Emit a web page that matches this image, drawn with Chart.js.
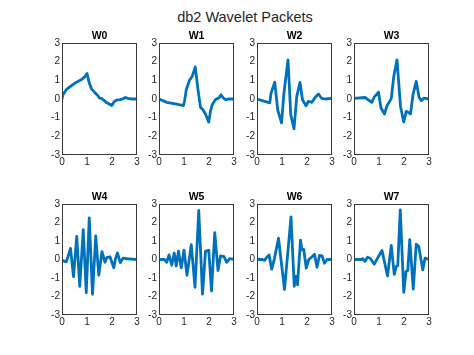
<!DOCTYPE html>
<html>
<head>
<meta charset="utf-8">
<script src="https://cdn.jsdelivr.net/npm/chart.js@4.4.1/dist/chart.umd.min.js"></script>
<style>
html,body{margin:0;padding:0;background:#fff;}
#fig{position:relative;width:474px;height:355px;overflow:hidden;background:#fff;}
#sup{position:absolute;left:0;top:9px;width:490px;line-height:17px;text-align:center;font-family:"Liberation Sans",Arial,Helvetica,sans-serif;font-size:14.5px;color:#262626;white-space:nowrap;}
.cell{position:absolute;}
canvas{display:block;}
</style>
</head>
<body>
<div id="fig"><div id="sup">db2 Wavelet Packets</div></div>
<script>
// ---- data ----
const figureTitle = 'db2 Wavelet Packets';
const panelTitles = ['W0','W1','W2','W3','W4','W5','W6','W7'];
const xTicks = [0, 1, 2, 3];
const yTicks = [-3, -2, -1, 0, 1, 2, 3];

const w0x = [0,0.04,0.17,0.38,0.58,0.78,0.92,1.0,1.09,1.18,1.29,1.43,1.5,1.59,1.76,1.99,2.1,2.2,2.33,2.46,2.53,2.64,2.8,3];
const w0y = [0,0.23,0.5,0.72,0.9,1.04,1.2,1.37,0.87,0.54,0.38,0.19,0.05,0.03,-0.17,-0.35,-0.12,-0.05,-0.03,0.02,0.08,0.03,0,0];

const w1x = [0,0.31,0.71,0.98,1.02,1.09,1.22,1.33,1.45,1.55,1.66,1.75,1.86,1.99,2.06,2.13,2.26,2.4,2.48,2.57,2.66,2.8,3];
const w1y = [0,-0.18,-0.28,-0.35,-0.12,0.5,1.0,1.22,1.72,0.6,-0.45,-0.56,-0.8,-1.24,-0.65,-0.3,-0.03,0.06,0.23,0.06,-0.03,0,0];

const w2x = [0,0.51,0.56,0.71,0.83,0.98,1.08,1.24,1.35,1.48,1.59,1.72,1.82,1.96,2.06,2.19,2.36,2.46,2.58,2.73,3];
const w2y = [0,-0.21,0.3,0.9,-0.6,-1.28,0.35,2.1,-0.84,-1.6,0.14,0.89,-0.04,-0.36,-0.12,-0.18,0.14,0.27,0.04,0,0.03];

const w3x = [0,0.44,0.71,0.81,0.98,1.08,1.22,1.32,1.49,1.59,1.72,1.86,1.99,2.09,2.15,2.26,2.36,2.49,2.6,2.69,2.8,3];
const w3y = [0.03,0.08,-0.18,0.1,0.37,-0.48,-0.8,-0.36,0.02,1.2,2.1,-0.4,-1.23,-0.66,-0.7,-0.8,0.23,0.95,0.09,-0.09,0.05,0];

const w4x = [0,0.17,0.25,0.34,0.46,0.59,0.71,0.85,0.97,1.09,1.22,1.35,1.47,1.6,1.72,1.79,1.92,2.07,2.14,2.22,2.33,2.44,2.6,2.8,3];
const w4y = [-0.05,-0.13,0.2,0.6,-0.93,1.25,-1.45,1.62,-1.8,2.25,-1.88,1.27,-0.85,0.43,-0.15,0.1,0.15,-0.45,0.04,0.35,-0.17,0.07,0.04,0.02,0];

const w5x = [0,0.22,0.31,0.40,0.51,0.61,0.69,0.78,0.89,1.0,1.12,1.29,1.44,1.59,1.74,1.86,1.99,2.10,2.23,2.36,2.46,2.6,2.71,2.83,3];
const w5y = [0,0,-0.15,0.25,-0.3,0.35,-0.35,0.45,-0.45,0.5,-0.85,0.8,-1.5,2.65,-1.87,0.45,0.5,-1.7,1.45,-0.6,0.2,0.15,-0.15,0.05,0];

const w6x = [0,0.22,0.3,0.38,0.48,0.59,0.68,0.86,1.10,1.36,1.49,1.55,1.62,1.74,1.8,1.87,1.97,2.07,2.2,2.3,2.4,2.5,2.6,2.7,2.8,3];
const w6y = [0,0,-0.05,0.1,0.25,-0.52,-0.05,1.15,-1.62,2.3,-1.45,-0.9,-1.37,1.05,0.52,0.55,-0.47,0,0.15,0.28,-0.42,0.22,0.2,-0.2,0,0];

const w7x = [0,0.3,0.35,0.44,0.54,0.645,0.81,0.94,1.12,1.34,1.49,1.61,1.69,1.75,1.85,1.99,2.08,2.15,2.23,2.37,2.49,2.59,2.75,2.84,3];
const w7y = [0,0,0.05,-0.1,0.12,0.07,-0.25,0.07,0.49,-0.89,0.76,-0.8,-0.38,-0.34,2.68,-1.77,-0.65,-0.6,1.07,-1.6,0.83,0.7,-0.56,0.07,0];

const seriesX = [w0x, w1x, w2x, w3x, w4x, w5x, w6x, w7x];
const seriesY = [w0y, w1y, w2y, w3y, w4y, w5y, w6y, w7y];

// ---- layout ----
const FONT = '"Liberation Sans", Arial, Helvetica, sans-serif';
const colLeft = [62, 159, 257, 354];
const rowTop = [43, 204];
const axW = 75, axH = [112, 111];
const padL = 24, padR = 24, padT = 22, padB = 18;

const boxPlugin = {
  id: 'axesBox',
  afterDatasetsDraw(chart) {
    const a = chart.chartArea, ctx = chart.ctx;
    ctx.save();
    ctx.strokeStyle = '#3a3a3a';
    ctx.lineWidth = 1;
    ctx.strokeRect(a.left + 0.5, a.top + 0.5, a.right - a.left - 1, a.bottom - a.top - 1);
    ctx.restore();
  }
};

const fig = document.getElementById('fig');
document.getElementById('sup').textContent = figureTitle;

for (let i = 0; i < 8; i++) {
  const r = Math.floor(i / 4), c = i % 4;
  const w = padL + axW + padR, h = padT + axH[r] + padB;
  const cell = document.createElement('div');
  cell.className = 'cell';
  cell.style.left = (colLeft[c] - padL) + 'px';
  cell.style.top = (rowTop[r] - padT) + 'px';
  const cv = document.createElement('canvas');
  cv.width = w; cv.height = h;
  cv.style.width = w + 'px'; cv.style.height = h + 'px';
  cell.appendChild(cv);
  fig.appendChild(cell);

  const pts = seriesX[i].map((x, k) => ({ x: x, y: seriesY[i][k] }));
  new Chart(cv, {
    type: 'line',
    data: { datasets: [{ data: pts, borderColor: '#0072BD', borderWidth: 2.8, pointRadius: 0, tension: 0, fill: false, borderJoinStyle: 'round', borderCapStyle: 'round', xAxisID: 'x', yAxisID: 'y' }] },
    options: {
      responsive: false, animation: false, events: [],
      devicePixelRatio: 1,
      layout: { padding: 0 },
      plugins: {
        legend: { display: false },
        tooltip: { enabled: false },
        title: { display: true, text: panelTitles[i], color: '#000', font: { family: FONT, size: 10.5, weight: 'bold', lineHeight: 1.2 }, padding: { top: 9.2, bottom: 0.2 } }
      },
      scales: {
        x: {
          type: 'linear', min: 0, max: 3,
          afterBuildTicks: s => { s.ticks = xTicks.map(v => ({ value: v })); },
          afterFit: s => { s.height = padB; },
          grid: { display: false, drawTicks: false },
          border: { display: false },
          ticks: { padding: 1, color: '#262626', maxRotation: 0, autoSkip: false, font: { family: FONT, size: 10 } }
        },
        y: {
          type: 'linear', position: 'left', min: -3, max: 3,
          afterBuildTicks: s => { s.ticks = yTicks.map(v => ({ value: v })); },
          afterFit: s => { s.width = padL; },
          grid: { display: false, drawTicks: false },
          border: { display: false },
          ticks: { padding: 2, color: '#262626', autoSkip: false, font: { family: FONT, size: 10 } }
        },
        yRight: {
          type: 'linear', axis: 'y', position: 'right', min: -3, max: 3,
          afterFit: s => { s.width = padR; },
          grid: { display: false, drawTicks: false },
          border: { display: false },
          ticks: { display: false }
        }
      }
    },
    plugins: [boxPlugin]
  });
}
</script>
</body>
</html>
